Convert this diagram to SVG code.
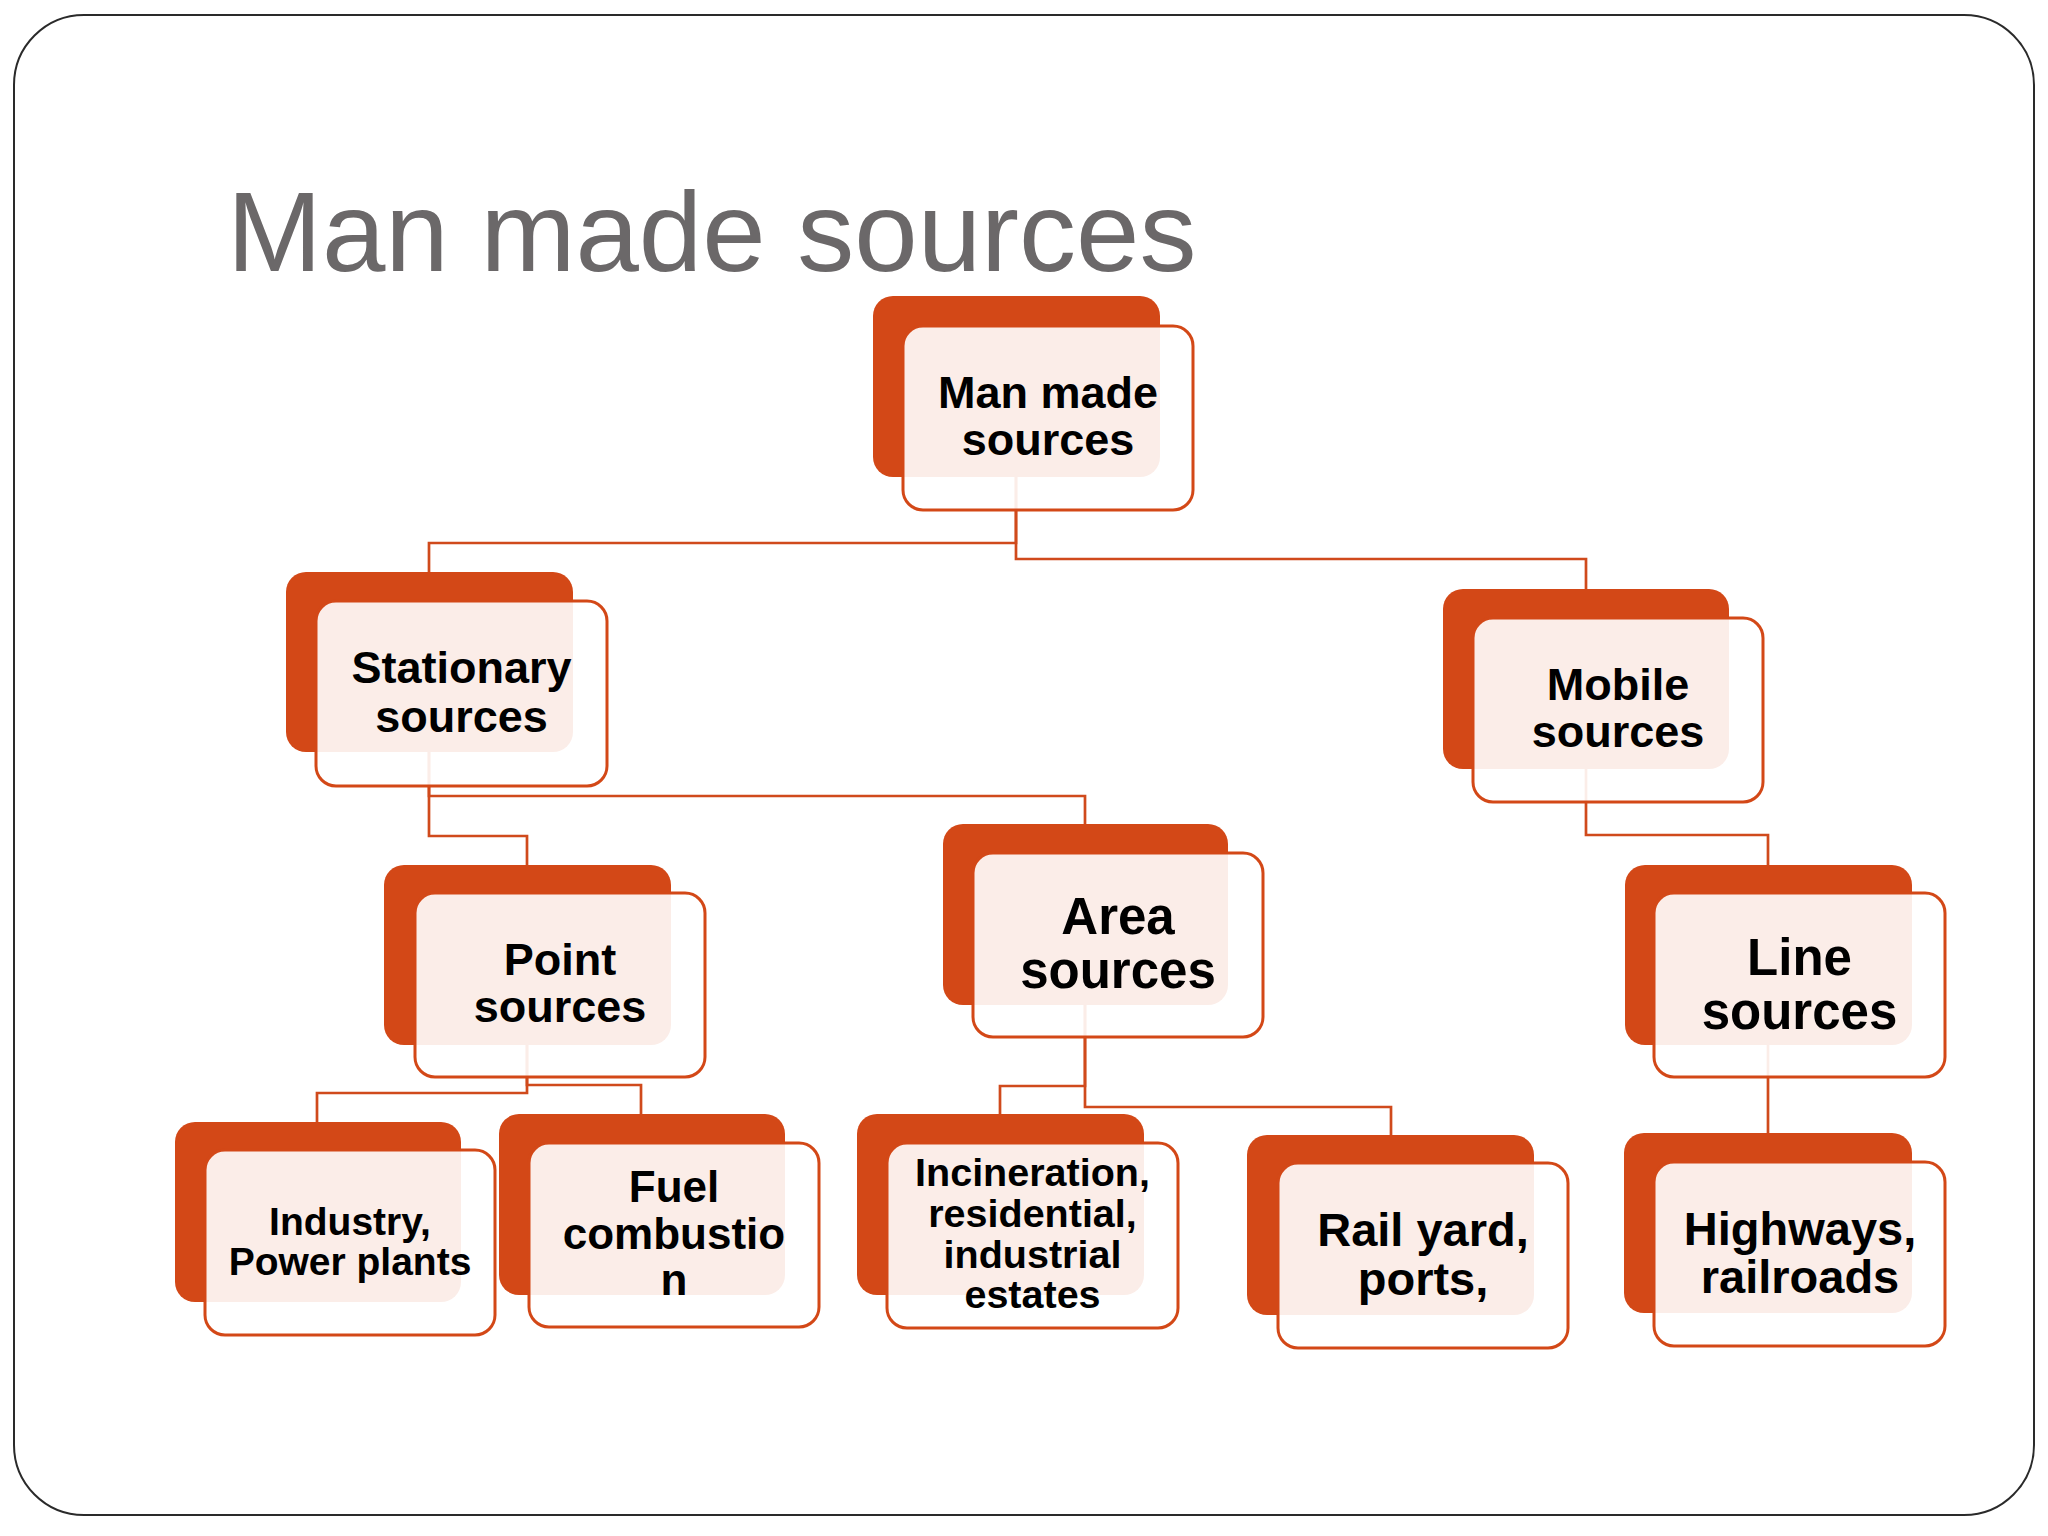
<svg xmlns="http://www.w3.org/2000/svg" width="2048" height="1536" viewBox="0 0 2048 1536">
<style>
.bg{fill:#ffffff}
.frame{fill:none;stroke:#2a2a2a;stroke-width:2}
.title{font-family:"Liberation Sans",Arial,sans-serif;font-size:114px;fill:#6b6869}
.conn{fill:none;stroke:#d04a1c;stroke-width:2.7}
.back{fill:#d34817}
.front{fill:#ffffff;fill-opacity:0.9;stroke:#d34817;stroke-width:3}
.lbl{font-family:"Liberation Sans",Arial,sans-serif;font-weight:bold;fill:#000;text-anchor:middle}
</style>
<rect class="bg" x="0" y="0" width="2048" height="1536"/>
<rect class="frame" x="14" y="15" width="2020" height="1500" rx="70" ry="70"/>
<text class="title" x="227" y="271">Man made sources</text>
<g id="connectors">
<path class="conn" d="M1016,477 V543 H429 V572"/>
<path class="conn" d="M1016,477 V559 H1586 V589"/>
<path class="conn" d="M429,752 V836 H527 V865"/>
<path class="conn" d="M429,752 V796 H1085 V824"/>
<path class="conn" d="M1586,769 V835 H1768 V865"/>
<path class="conn" d="M527,1045 V1093 H317 V1122"/>
<path class="conn" d="M527,1045 V1085 H641 V1114"/>
<path class="conn" d="M1085,1005 V1086 H1000 V1114"/>
<path class="conn" d="M1085,1005 V1107 H1391 V1135"/>
<path class="conn" d="M1768,1045 V1133"/>
</g>
<g id="node-man-made">
<rect class="back" x="873" y="296" width="287" height="181" rx="20"/>
<rect class="front" x="903" y="326" width="290" height="184" rx="20"/>
<text class="lbl" font-size="45"><tspan x="1048" y="408">Man made</tspan><tspan x="1048" y="455">sources</tspan></text>
</g>
<g id="node-stationary">
<rect class="back" x="286" y="572" width="287" height="180" rx="20"/>
<rect class="front" x="316" y="601" width="291" height="185" rx="20"/>
<text class="lbl" font-size="45"><tspan x="461.5" y="683">Stationary</tspan><tspan x="461.5" y="732">sources</tspan></text>
</g>
<g id="node-mobile">
<rect class="back" x="1443" y="589" width="286" height="180" rx="20"/>
<rect class="front" x="1473" y="618" width="290" height="184" rx="20"/>
<text class="lbl" font-size="45"><tspan x="1618" y="700">Mobile</tspan><tspan x="1618" y="747">sources</tspan></text>
</g>
<g id="node-point">
<rect class="back" x="384" y="865" width="287" height="180" rx="20"/>
<rect class="front" x="415" y="893" width="290" height="184" rx="20"/>
<text class="lbl" font-size="45"><tspan x="560" y="975">Point</tspan><tspan x="560" y="1022">sources</tspan></text>
</g>
<g id="node-area">
<rect class="back" x="943" y="824" width="285" height="181" rx="20"/>
<rect class="front" x="973" y="853" width="290" height="184" rx="20"/>
<text class="lbl" font-size="51"><tspan x="1118" y="934">Area</tspan><tspan x="1118" y="988">sources</tspan></text>
</g>
<g id="node-line">
<rect class="back" x="1625" y="865" width="287" height="180" rx="20"/>
<rect class="front" x="1654" y="893" width="291" height="184" rx="20"/>
<text class="lbl" font-size="51"><tspan x="1799.5" y="975">Line</tspan><tspan x="1799.5" y="1029">sources</tspan></text>
</g>
<g id="node-industry">
<rect class="back" x="175" y="1122" width="286" height="180" rx="20"/>
<rect class="front" x="205" y="1150" width="290" height="185" rx="20"/>
<text class="lbl" font-size="39"><tspan x="350" y="1235">Industry,</tspan><tspan x="350" y="1275">Power plants</tspan></text>
</g>
<g id="node-fuel">
<rect class="back" x="499" y="1114" width="286" height="181" rx="20"/>
<rect class="front" x="529" y="1143" width="290" height="184" rx="20"/>
<text class="lbl" font-size="44"><tspan x="674" y="1202">Fuel</tspan><tspan x="674" y="1249">combustio</tspan><tspan x="674" y="1295">n</tspan></text>
</g>
<g id="node-incineration">
<rect class="back" x="857" y="1114" width="287" height="181" rx="20"/>
<rect class="front" x="887" y="1143" width="291" height="185" rx="20"/>
<text class="lbl" font-size="39.5"><tspan x="1032.5" y="1186">Incineration,</tspan><tspan x="1032.5" y="1227">residential,</tspan><tspan x="1032.5" y="1268">industrial</tspan><tspan x="1032.5" y="1308">estates</tspan></text>
</g>
<g id="node-rail">
<rect class="back" x="1247" y="1135" width="287" height="180" rx="20"/>
<rect class="front" x="1278" y="1163" width="290" height="185" rx="20"/>
<text class="lbl" font-size="47"><tspan x="1423" y="1246">Rail yard,</tspan><tspan x="1423" y="1295">ports,</tspan></text>
</g>
<g id="node-highways">
<rect class="back" x="1624" y="1133" width="288" height="180" rx="20"/>
<rect class="front" x="1654" y="1162" width="291" height="184" rx="20"/>
<text class="lbl" font-size="47"><tspan x="1800" y="1245">Highways,</tspan><tspan x="1800" y="1293">railroads</tspan></text>
</g>
</svg>
